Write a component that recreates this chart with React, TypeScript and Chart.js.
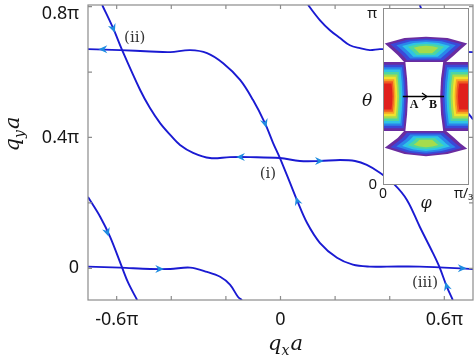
import React, { useEffect, useRef } from 'react';
import { Chart, registerables } from 'chart.js';

Chart.register(...registerables);

type P = [number, number];

// ---------- main panel (values in units of π) ----------
const X_MIN = -0.705;
const X_MAX = 0.705;
const Y_MIN = -0.097;
const Y_MAX = 0.805;
const xTickValues = [-0.6, -0.4, -0.2, 0, 0.2, 0.4, 0.6];
const yTickValues = [0, 0.2, 0.4, 0.6, 0.8];
const xTickLabels: Record<string, string> = { '-0.6': '-0.6π', '0': '0', '0.6': '0.6π' };
const yTickLabels: Record<string, string> = { '0': '0', '0.4': '0.4π', '0.8': '0.8π' };

const curveA: P[] = [
  [-0.705, 0.670], [-0.587, 0.667], [-0.477, 0.663], [-0.404, 0.661], [-0.331, 0.667],
  [-0.269, 0.658], [-0.210, 0.627], [-0.148, 0.576], [-0.101, 0.515], [-0.057, 0.444],
  [-0.027, 0.383], [-0.002, 0.337], [0.035, 0.261], [0.060, 0.209], [0.097, 0.139],
  [0.144, 0.078], [0.207, 0.032], [0.265, 0.011], [0.327, 0.005], [0.390, 0.005],
  [0.510, 0.005], [0.705, -0.002],
];
const curveB: P[] = [
  [-0.653, 0.805], [-0.613, 0.734], [-0.580, 0.667], [-0.514, 0.545], [-0.478, 0.490],
  [-0.441, 0.444], [-0.404, 0.408], [-0.368, 0.377], [-0.320, 0.353], [-0.258, 0.337],
  [-0.185, 0.340], [-0.111, 0.340], [-0.002, 0.337], [0.071, 0.328], [0.144, 0.328],
  [0.218, 0.331], [0.273, 0.328], [0.316, 0.316], [0.364, 0.292], [0.415, 0.258],
  [0.463, 0.209], [0.510, 0.127], [0.558, 0.047], [0.583, 0.002], [0.609, -0.056],
  [0.631, -0.097],
];
const curveC: P[] = [
  [0.101, 0.805], [0.144, 0.759], [0.181, 0.728], [0.218, 0.704], [0.254, 0.682],
  [0.291, 0.673], [0.327, 0.667], [0.364, 0.670], [0.450, 0.668], [0.560, 0.664],
  [0.705, 0.661],
];
const curveD: P[] = [
  [-0.705, 0.218], [-0.660, 0.157], [-0.624, 0.096], [-0.580, 0.002], [-0.558, -0.044],
  [-0.525, -0.097],
];
const curveE: P[] = [
  [-0.705, 0.005], [-0.587, 0.002], [-0.477, -0.002], [-0.404, -0.002], [-0.331, 0.002],
  [-0.269, -0.011], [-0.221, -0.026], [-0.185, -0.050], [-0.156, -0.087], [-0.141, -0.097],
];
const curveF: P[] = [
  [0.510, 0.805], [0.545, 0.730], [0.580, 0.667], [0.620, 0.580], [0.660, 0.505],
  [0.705, 0.455],
];
const curves = [curveA, curveB, curveC, curveD, curveE, curveF];

// flow arrows: [x, y, towardX, towardY]
const arrows: [number, number, number, number][] = [
  [-0.613, 0.734, -0.600, 0.705],
  [-0.649, 0.670, -0.690, 0.670],
  [-0.057, 0.444, -0.045, 0.410],
  [-0.145, 0.340, -0.190, 0.340],
  [0.141, 0.328, 0.180, 0.328],
  [0.062, 0.205, 0.050, 0.235],
  [-0.635, 0.111, -0.625, 0.085],
  [-0.444, -0.002, -0.400, -0.002],
  [0.664, 0.000, 0.700, 0.000],
  [0.609, -0.056, 0.600, -0.030],
];

const pointLabels = ['(i)', '(ii)', '(iii)'];
const pointLabelX = [-0.046, -0.534, 0.529];
const pointLabelY = [0.289, 0.704, -0.044];

// ---------- inset (φ in units of π/3, θ in units of π) ----------
const insetArrowLine: P[] = [[0.23, 0.5], [0.71, 0.5]];
const insetArrowHead: P = [0.5, 0.5];
const insetLetters = ['A', 'B'];
const insetLetterX = [0.36, 0.58];
const insetLetterY = [0.455, 0.455];

const leftPatch: P[] = [[0, 0.695], [0.26, 0.695], [0.28, 0.60], [0.29, 0.50], [0.28, 0.40], [0.26, 0.305], [0, 0.305]];
const rightPatch: P[] = [[1, 0.695], [0.70, 0.695], [0.675, 0.60], [0.665, 0.50], [0.675, 0.40], [0.70, 0.305], [1, 0.305]];
const topPatch: P[] = [
  [0.245, 0.695], [0.735, 0.695], [0.83, 0.735], [0.90, 0.765], [0.98, 0.80],
  [0.75, 0.83], [0.5, 0.838], [0.25, 0.83], [0.02, 0.80], [0.10, 0.765], [0.17, 0.735],
];
const bottomPatch: P[] = [
  [0.245, 0.305], [0.735, 0.305], [0.83, 0.265], [0.90, 0.235], [0.98, 0.205],
  [0.75, 0.175], [0.5, 0.162], [0.25, 0.175], [0.02, 0.21], [0.10, 0.24], [0.17, 0.265],
];
const jet = ['#6a2ca0', '#3b48d8', '#2a86ea', '#2ec4e6', '#4ed6a0', '#a6dc4c', '#f2e22e', '#f6a224', '#ef5a22', '#e0201c'];
const sideLevels = [1, 0.92, 0.85, 0.78, 0.71, 0.64, 0.57, 0.5, 0.44, 0.38];
const capLevels = [1, 0.86, 0.72, 0.58, 0.44, 0.3];
const patches: { pts: P[]; c: P; levels: number[] }[] = [
  { pts: leftPatch, c: [0, 0.5], levels: sideLevels },
  { pts: rightPatch, c: [1, 0.5], levels: sideLevels },
  { pts: topPatch, c: [0.5, 0.765], levels: capLevels },
  { pts: bottomPatch, c: [0.5, 0.235], levels: capLevels },
];

const LINE = '#1a1ad2';
const ARROW = '#1f8ce0';
const FRAME = '#8c8c8c';
const TEXT = '#161616';

const key = (v: number) => String(Math.round(v * 10) / 10);

function fixSize(s: any, w: number | null, h: number | null) {
  if (w !== null) s.width = w;
  if (h !== null) s.height = h;
  s.paddingTop = 0;
  s.paddingBottom = 0;
  s.paddingLeft = 0;
  s.paddingRight = 0;
}

function drawHead(ctx: CanvasRenderingContext2D, x: number, y: number, ang: number, size: number, color: string) {
  ctx.save();
  ctx.translate(x, y);
  ctx.rotate(ang);
  ctx.beginPath();
  ctx.moveTo(size * 0.6, 0);
  ctx.lineTo(-size * 0.5, size * 0.5);
  ctx.lineTo(-size * 0.15, 0);
  ctx.lineTo(-size * 0.5, -size * 0.5);
  ctx.closePath();
  ctx.fillStyle = color;
  ctx.fill();
  ctx.restore();
}

function drawSub(ctx: CanvasRenderingContext2D, a: string, sub: string, b: string, cx: number, by: number) {
  const big = 'italic 21px "DejaVu Serif"';
  const small = 'italic 14px "DejaVu Serif"';
  ctx.font = big;
  const wa = ctx.measureText(a).width;
  const wb = ctx.measureText(b).width;
  ctx.font = small;
  const ws = ctx.measureText(sub).width;
  const total = wa + ws + wb + 1;
  let x = cx - total / 2;
  ctx.textAlign = 'left';
  ctx.textBaseline = 'alphabetic';
  ctx.font = big;
  ctx.fillText(a, x, by);
  x += wa;
  ctx.font = small;
  ctx.fillText(sub, x, by + 5);
  x += ws + 1;
  ctx.font = big;
  ctx.fillText(b, x, by);
}

const mainPlugin = {
  id: 'mainDecor',
  afterDatasetsDraw(chart: any) {
    const { ctx, chartArea: a, scales } = chart;
    const xs = scales.x;
    const ys = scales.y;
    ctx.save();
    ctx.strokeStyle = FRAME;
    ctx.lineWidth = 1.2;
    ctx.strokeRect(a.left, a.top, a.right - a.left, a.bottom - a.top);
    const L = 4;
    ctx.beginPath();
    for (const v of xTickValues) {
      const p = xs.getPixelForValue(v);
      ctx.moveTo(p, a.bottom); ctx.lineTo(p, a.bottom - L);
      ctx.moveTo(p, a.top); ctx.lineTo(p, a.top + L);
    }
    for (const v of yTickValues) {
      const p = ys.getPixelForValue(v);
      ctx.moveTo(a.left, p); ctx.lineTo(a.left + L, p);
      ctx.moveTo(a.right, p); ctx.lineTo(a.right - L, p);
    }
    ctx.stroke();
    for (const [x0, y0, x1, y1] of arrows) {
      const px = xs.getPixelForValue(x0);
      const py = ys.getPixelForValue(y0);
      const qx = xs.getPixelForValue(x1);
      const qy = ys.getPixelForValue(y1);
      drawHead(ctx, px, py, Math.atan2(qy - py, qx - px), 8, ARROW);
    }
    ctx.fillStyle = '#333';
    ctx.font = '15px "DejaVu Serif"';
    ctx.textAlign = 'center';
    ctx.textBaseline = 'middle';
    pointLabels.forEach((t, i) => {
      ctx.fillText(t, xs.getPixelForValue(pointLabelX[i]), ys.getPixelForValue(pointLabelY[i]));
    });
    ctx.restore();
  },
  afterDraw(chart: any) {
    const { ctx, chartArea: a } = chart;
    ctx.save();
    ctx.fillStyle = TEXT;
    drawSub(ctx, 'q', 'x', 'a', (a.left + a.right) / 2 + 5, 350);
    ctx.translate(19, 134);
    ctx.rotate(-Math.PI / 2);
    drawSub(ctx, 'q', 'y', 'a', 0, 0);
    ctx.restore();
  },
};

const insetPlugin = {
  id: 'insetDecor',
  beforeDatasetsDraw(chart: any) {
    const { ctx, chartArea: a, scales } = chart;
    const xs = scales.x;
    const ys = scales.y;
    ctx.save();
    ctx.fillStyle = '#fff';
    ctx.fillRect(a.left, a.top, a.right - a.left, a.bottom - a.top);
    for (const patch of patches) {
      patch.levels.forEach((s, i) => {
        ctx.beginPath();
        patch.pts.forEach(([u, v], k) => {
          const px = xs.getPixelForValue(patch.c[0] + s * (u - patch.c[0]));
          const py = ys.getPixelForValue(patch.c[1] + s * (v - patch.c[1]));
          if (k === 0) ctx.moveTo(px, py); else ctx.lineTo(px, py);
        });
        ctx.closePath();
        ctx.fillStyle = jet[i];
        ctx.fill();
      });
    }
    ctx.strokeStyle = FRAME;
    ctx.lineWidth = 1;
    ctx.strokeRect(a.left + 0.5, a.top + 0.5, a.right - a.left - 1, a.bottom - a.top - 1);
    ctx.restore();
  },
  afterDatasetsDraw(chart: any) {
    const { ctx, chartArea: a, scales } = chart;
    const xs = scales.x;
    const ys = scales.y;
    ctx.save();
    const hx = xs.getPixelForValue(insetArrowHead[0]);
    const hy = ys.getPixelForValue(insetArrowHead[1]);
    ctx.strokeStyle = '#000';
    ctx.lineWidth = 1.2;
    ctx.beginPath();
    ctx.moveTo(hx - 4, hy - 3.5); ctx.lineTo(hx + 1, hy); ctx.lineTo(hx - 4, hy + 3.5);
    ctx.stroke();
    ctx.fillStyle = '#111';
    ctx.font = 'bold 12px "Liberation Serif"';
    ctx.textAlign = 'center';
    ctx.textBaseline = 'middle';
    insetLetters.forEach((t, i) => {
      ctx.fillText(t, xs.getPixelForValue(insetLetterX[i]), ys.getPixelForValue(insetLetterY[i]));
    });
    ctx.font = 'italic 17px "DejaVu Serif"';
    ctx.fillStyle = TEXT;
    ctx.fillText('θ', a.left - 16, ys.getPixelForValue(0.47));
    ctx.restore();
  },
};

export default function App() {
  const mainRef = useRef<HTMLCanvasElement>(null);
  const insetRef = useRef<HTMLCanvasElement>(null);

  useEffect(() => {
    const main = new Chart(mainRef.current as HTMLCanvasElement, {
      type: 'scatter',
      data: {
        datasets: curves.map((c) => ({
          data: c.map(([x, y]) => ({ x, y })),
          showLine: true,
          borderColor: LINE,
          borderWidth: 1.9,
          pointRadius: 0,
          tension: 0.35,
        })),
      },
      options: {
        animation: false,
        responsive: false,
        devicePixelRatio: 1,
        layout: { autoPadding: false, padding: { top: 5, right: 1, left: 0, bottom: 0 } },
        plugins: { legend: { display: false }, tooltip: { enabled: false } },
        scales: {
          x: {
            type: 'linear',
            min: X_MIN,
            max: X_MAX,
            afterBuildTicks: (s: any) => { s.ticks = xTickValues.map((value) => ({ value })); },
            afterFit: (s: any) => fixSize(s, null, 58),
            grid: { display: false, drawTicks: false },
            border: { display: false },
            ticks: {
              autoSkip: false,
              maxRotation: 0,
              padding: 9,
              color: TEXT,
              font: { family: 'Noto Sans', size: 18 },
              callback: (v: any) => xTickLabels[key(Number(v))] ?? '',
            },
          },
          y: {
            type: 'linear',
            min: Y_MIN,
            max: Y_MAX,
            afterBuildTicks: (s: any) => { s.ticks = yTickValues.map((value) => ({ value })); },
            afterFit: (s: any) => fixSize(s, 88, null),
            grid: { display: false, drawTicks: false },
            border: { display: false },
            ticks: {
              autoSkip: false,
              padding: 9,
              color: TEXT,
              font: { family: 'Noto Sans', size: 18, lineHeight: 0.78 },
              callback: (v: any) => {
                const k = key(Number(v));
                const t = yTickLabels[k] ?? '';
                return k === '0.8' ? ['', t] : t;
              },
            },
          },
        },
      },
      plugins: [mainPlugin],
    } as any);

    const inset = new Chart(insetRef.current as HTMLCanvasElement, {
      type: 'scatter',
      data: {
        datasets: [{
          data: insetArrowLine.map(([x, y]) => ({ x, y })),
          showLine: true,
          borderColor: '#000',
          borderWidth: 1.3,
          pointRadius: 0,
        }],
      },
      options: {
        animation: false,
        responsive: false,
        devicePixelRatio: 1,
        layout: { autoPadding: false, padding: { top: 8, right: 5, left: 0, bottom: 0 } },
        plugins: { legend: { display: false }, tooltip: { enabled: false } },
        scales: {
          x: {
            type: 'linear',
            min: 0,
            max: 1,
            afterBuildTicks: (s: any) => { s.ticks = [{ value: 0 }, { value: 1 }]; },
            afterFit: (s: any) => fixSize(s, null, 30),
            grid: { display: false, drawTicks: false },
            border: { display: false },
            ticks: {
              autoSkip: false,
              maxRotation: 0,
              padding: 1,
              color: TEXT,
              font: { family: 'Noto Sans', size: 14 },
              callback: (v: any) => (Number(v) === 0 ? '0' : 'π/₃   '),
            },
            title: {
              display: true,
              text: 'φ',
              color: TEXT,
              font: { family: 'DejaVu Serif', size: 16, style: 'italic' },
              padding: { top: 0, bottom: 2 },
            },
          },
          y: {
            type: 'linear',
            min: 0,
            max: 1,
            afterBuildTicks: (s: any) => { s.ticks = [{ value: 0 }, { value: 1 }]; },
            afterFit: (s: any) => fixSize(s, 43, null),
            grid: { display: false, drawTicks: false },
            border: { display: false },
            ticks: {
              autoSkip: false,
              padding: 6,
              color: TEXT,
              font: { family: 'Noto Sans', size: 15, lineHeight: 0.7 },
              callback: (v: any) => (Number(v) === 0 ? '0' : ['', 'π']),
            },
          },
        },
      },
      plugins: [insetPlugin],
    } as any);

    return () => {
      main.destroy();
      inset.destroy();
    };
  }, []);

  return (
    <div style={{ position: 'fixed', left: 0, top: 0, width: 474, height: 358, background: '#fff', overflow: 'hidden' }}>
      <canvas ref={mainRef} width={474} height={358} style={{ position: 'absolute', left: 0, top: 0 }} />
      <canvas ref={insetRef} width={134} height={215} style={{ position: 'absolute', left: 340, top: 0 }} />
    </div>
  );
}
